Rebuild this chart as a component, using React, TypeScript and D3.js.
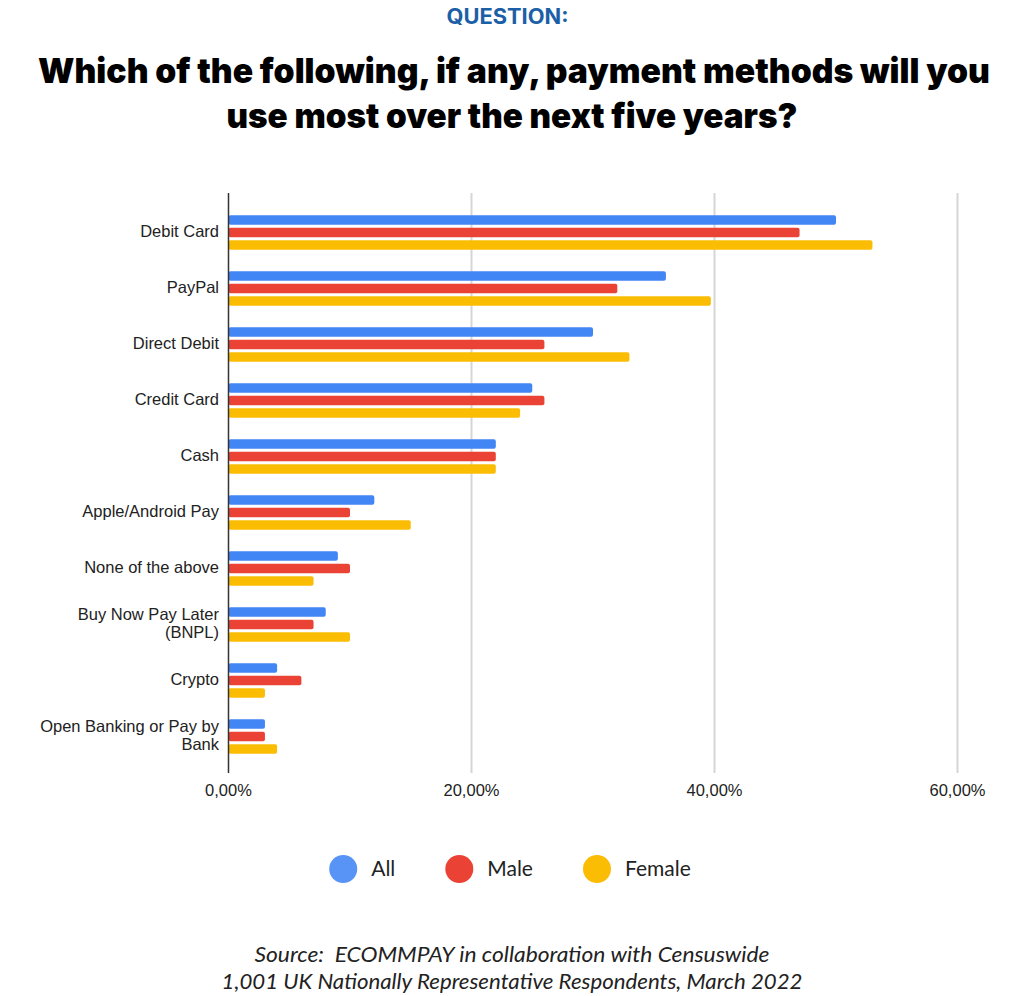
import React from "react";
import * as d3 from "d3";

const categories = [
  "Debit Card",
  "PayPal",
  "Direct Debit",
  "Credit Card",
  "Cash",
  "Apple/Android Pay",
  "None of the above",
  "Buy Now Pay Later (BNPL)",
  "Crypto",
  "Open Banking or Pay by Bank",
];
const seriesNames = ["All", "Male", "Female"];
const allValues = [0.50, 0.36, 0.30, 0.25, 0.22, 0.12, 0.09, 0.08, 0.04, 0.03];
const maleValues = [0.47, 0.32, 0.26, 0.26, 0.22, 0.10, 0.10, 0.07, 0.06, 0.03];
const femaleValues = [0.53, 0.397, 0.33, 0.24, 0.22, 0.15, 0.07, 0.10, 0.03, 0.04];
const xTicks = [0, 0.2, 0.4, 0.6];

const barColors = ["#4285F4", "#EA4335", "#FBBC04"];
const legendColors = ["#5894F6", "#EA4335", "#FBBC04"];

const labelFont = '16.5px "Liberation Sans", Arial, sans-serif';
const legendFont = '21px Lato, "Noto Sans", sans-serif';

const ctx = typeof document !== "undefined" ? document.createElement("canvas").getContext("2d") : null;
function measure(text: string, font: string) {
  if (!ctx) return text.length * 8;
  ctx.font = font;
  return ctx.measureText(text).width;
}
function wrap(text: string, maxW: number, font: string) {
  const words = text.split(" ");
  const lines: string[] = [];
  let cur = "";
  for (const w of words) {
    const t = cur ? cur + " " + w : w;
    if (cur && measure(t, font) > maxW) {
      lines.push(cur);
      cur = w;
    } else cur = t;
  }
  if (cur) lines.push(cur);
  return lines;
}

const pctFmt = d3
  .formatLocale({ decimal: ",", thousands: ".", grouping: [3], currency: ["", "€"] })
  .format(".2%");

export default function App() {
  const W = 1024;
  const H = 996;
  const plotTop = 193;
  const plotBottom = 773;
  const x = d3.scaleLinear().domain([0, 0.6]).range([228.5, 957.5]);
  const y = d3.scaleBand<string>().domain(categories).range([204.5, 764.5]).padding(0);
  const inner = d3.scaleBand<string>().domain(seriesNames).range([-18.75, 18.75]).paddingInner(0.24).paddingOuter(0.12);
  const series = [allValues, maleValues, femaleValues];

  // legend layout
  const r = 14;
  const textGap = 14;
  const itemGap = 50;
  const widths = seriesNames.map((s) => 2 * r + textGap + measure(s, legendFont));
  const totalW = d3.sum(widths) + itemGap * (seriesNames.length - 1);
  let lx = 510 - totalW / 2;
  const legendItems = seriesNames.map((s, i) => {
    const item = { name: s, cx: lx + r, tx: lx + 2 * r + textGap, color: legendColors[i] };
    lx += widths[i] + itemGap;
    return item;
  });

  const titleFamily = 'Inter, Lato, "Noto Sans", sans-serif';

  return (
    <svg width={W} height={H} style={{ position: "absolute", left: 0, top: 0, background: "#fff" }}>
      <text x={507.5} y={24} textAnchor="middle" fill="#1B5FA6" fontFamily={titleFamily} fontWeight={700} fontSize={21} textLength={122} lengthAdjust="spacingAndGlyphs">
        QUESTION:
      </text>
      <text x={514} y={82.5} textAnchor="middle" fill="#000" fontFamily={titleFamily} fontWeight={900} fontSize={34.5} textLength={952} lengthAdjust="spacingAndGlyphs">
        Which of the following, if any, payment methods will you
      </text>
      <text x={512} y={127.5} textAnchor="middle" fill="#000" fontFamily={titleFamily} fontWeight={900} fontSize={34.5} textLength={571} lengthAdjust="spacingAndGlyphs">
        use most over the next five years?
      </text>

      {/* gridlines */}
      {xTicks.filter((t) => t > 0).map((t) => (
        <line key={t} x1={x(t)} x2={x(t)} y1={plotTop} y2={plotBottom} stroke="#d6d6d6" strokeWidth={2} />
      ))}

      {/* bars */}
      {categories.map((c, ci) => (
        <g key={c} transform={`translate(0,${y(c)! + y.bandwidth() / 2})`}>
          {series.map((vals, si) => (
            <rect
              key={si}
              x={x(0)}
              y={inner(seriesNames[si])!}
              width={x(vals[ci]) - x(0)}
              height={inner.bandwidth()}
              rx={2}
              ry={2}
              fill={barColors[si]}
            />
          ))}
        </g>
      ))}

      {/* axis line */}
      <line x1={x(0)} x2={x(0)} y1={plotTop} y2={plotBottom} stroke="#333" strokeWidth={1.5} />

      {/* category labels */}
      {categories.map((c) => {
        const lines = wrap(c, 190, labelFont);
        const lh = 18.5;
        const cy = y(c)! + y.bandwidth() / 2 - 1.5;
        const start = cy - ((lines.length - 1) * lh) / 2;
        return (
          <text key={c} x={219} textAnchor="end" fill="#222" fontFamily='"Liberation Sans", Arial, sans-serif' fontSize={16.5}>
            {lines.map((l, i) => (
              <tspan key={i} x={219} y={start + i * lh} dy="0.35em">
                {l}
              </tspan>
            ))}
          </text>
        );
      })}

      {/* tick labels */}
      {xTicks.map((t) => (
        <text key={t} x={x(t)} y={796} textAnchor="middle" fill="#222" fontFamily='"Liberation Sans", Arial, sans-serif' fontSize={16.5}>
          {pctFmt(t)}
        </text>
      ))}

      {/* legend */}
      {legendItems.map((it) => (
        <g key={it.name}>
          <circle cx={it.cx} cy={869} r={r} fill={it.color} />
          <text x={it.tx} y={869} dy="0.35em" fill="#222" fontFamily='Lato, "Noto Sans", sans-serif' fontSize={21}>
            {it.name}
          </text>
        </g>
      ))}

      {/* source */}
      <text x={512} y={962} textAnchor="middle" fill="#222" fontFamily='Lato, "Noto Sans", sans-serif' fontStyle="italic" fontSize={21} textLength={515} lengthAdjust="spacingAndGlyphs">
        Source:{"\u00a0\u00a0"}ECOMMPAY in collaboration with Censuswide
      </text>
      <text x={512} y={989} textAnchor="middle" fill="#222" fontFamily='Lato, "Noto Sans", sans-serif' fontStyle="italic" fontSize={21} textLength={581} lengthAdjust="spacingAndGlyphs">
        1,001 UK Nationally Representative Respondents, March 2022
      </text>
    </svg>
  );
}
